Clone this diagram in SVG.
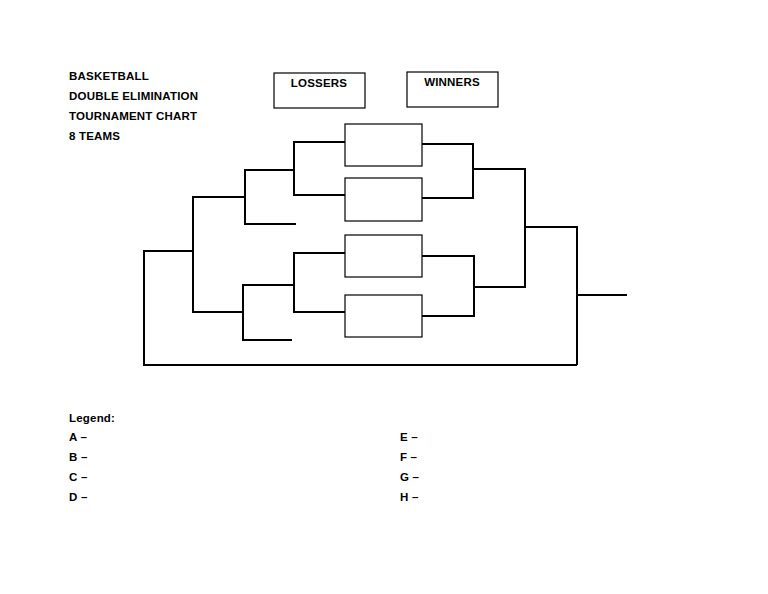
<svg xmlns="http://www.w3.org/2000/svg" width="768" height="594" viewBox="0 0 768 594">
<style>
text{font-family:"Liberation Sans",Arial,sans-serif;font-size:11.5px;font-weight:bold;fill:#000;letter-spacing:0.2px}
.b{fill:#fff;stroke:#000;stroke-width:1.2}
.c path{fill:none;stroke:#000;stroke-width:2}
</style>
<rect width="768" height="594" fill="#fff"/>
<g id="title">
<text x="69" y="80">BASKETBALL</text>
<text x="69" y="100">DOUBLE ELIMINATION</text>
<text x="69" y="120">TOURNAMENT CHART</text>
<text x="69" y="140">8 TEAMS</text>
</g>
<g id="lossers"><rect class="b" x="274" y="73" width="91" height="35"/><text x="319" y="87" text-anchor="middle">LOSSERS</text></g>
<g id="winners"><rect class="b" x="407" y="72" width="91" height="35"/><text x="452" y="86" text-anchor="middle">WINNERS</text></g>
<g id="m1"><rect class="b" x="345" y="124" width="77" height="42"/></g>
<g id="m2"><rect class="b" x="345" y="178" width="77" height="43"/></g>
<g id="m3"><rect class="b" x="345" y="235" width="77" height="42"/></g>
<g id="m4"><rect class="b" x="345" y="295" width="77" height="42"/></g>
<g class="c" id="connectors">
<path d="M345 142H294V195H345"/>
<path d="M294 170H245V224H296"/>
<path d="M245 197H193V312H243"/>
<path d="M345 253H294V312H345"/>
<path d="M294 285H243V340H292"/>
<path d="M193 251H144V365H577"/>
<path d="M422 144H473V198H422"/>
<path d="M473 169H525V287H474"/>
<path d="M422 256H474V316H422"/>
<path d="M525 227H577V365"/>
<path d="M577 295H627"/>
</g>
<g id="legend">
<text x="69" y="422">Legend:</text>
<text x="69" y="441">A –</text>
<text x="69" y="461">B –</text>
<text x="69" y="481">C –</text>
<text x="69" y="501">D –</text>
<text x="400" y="441">E –</text>
<text x="400" y="461">F –</text>
<text x="400" y="481">G –</text>
<text x="400" y="501">H –</text>
</g>
</svg>
